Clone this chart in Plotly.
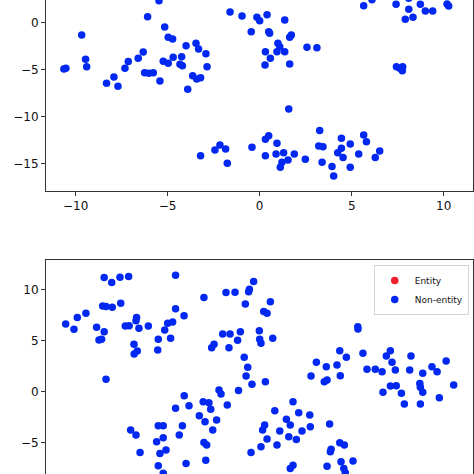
import plotly.graph_objects as go

# upper panel: embedding of the first set (only non-entity points visible)
top_x = [-5.47, -6.09, -1.61, -9.67, -5.16, -4.97, -4.73, -4.00, -3.46, -3.32,
         -2.92, -2.86, -6.33, -6.60, -7.14, -7.32, -9.46, -9.40, -10.53, -10.64,
         -8.32, -7.92, -7.70, -6.25, -6.02, -5.78, -5.42, -5.24, -4.97, -4.70,
         -4.24, -4.33, -4.20, -3.91, -3.64, -3.42, -3.21, -3.21, -2.43, -2.16,
         -1.85, -1.76,
         -0.96, -0.15, 0.00, 0.40, 1.36, -0.46, 0.49, 0.54, 1.63, 1.72,
         0.99, 1.09, 0.94, 1.36, 0.31, 0.58, 0.29, 1.63, 2.57, 3.11,
         5.65, 6.10, 7.41, 8.10, 8.73, 7.91, 8.33, 9.00, 9.40, 10.18,
         10.27, 8.10, 7.43, 7.61, 7.77, 7.75, 1.58,
         -0.42, 0.31, 0.49, 0.94, 0.31, 0.89, 1.30, 1.88, 1.21, 1.12,
         1.54, 2.48, 3.26, 3.21, 3.44, 3.39, 3.93, 4.02, 4.44, 4.44,
         4.24, 4.53, 4.92, 4.92, 5.38, 5.65, 5.80, 6.28, 6.52]
top_y = [2.35, 0.64, 1.14, -1.31, -0.46, -1.56, -1.74, -2.45, -2.20, -2.80,
         -3.30, -4.69, -3.12, -3.80, -4.15, -4.86, -3.90, -4.69, -4.86, -4.94,
         -6.46, -5.79, -6.78, -5.33, -5.40, -5.33, -6.22, -4.12, -4.33, -3.69,
         -3.62, -4.44, -4.58, -7.10, -5.65, -6.00, -5.86, -14.18, -13.57, -13.04,
         -13.46, -14.99,
         0.71, 0.58, 0.21, 0.85, 0.29, -0.96, -0.96, -1.13, -1.56, -1.31,
         -2.20, -2.56, -3.09, -3.09, -3.09, -3.80, -4.51, -4.40, -2.63, -2.66,
         1.81, 2.45, 1.96, 1.43, 1.96, 0.36, 0.58, 1.25, 1.25, 1.99,
         1.78, 2.60, -4.69, -4.86, -4.69, -5.12, -9.20,
         -13.28, -12.43, -12.05, -12.86, -14.18, -14.00, -13.86, -14.00, -14.88, -15.42,
         -14.64, -14.56, -11.51, -13.14, -13.22, -14.88, -15.35, -16.34, -12.33, -13.39,
         -13.86, -14.39, -12.93, -15.42, -14.00, -11.97, -12.69, -14.39, -13.68]

# lower panel: embedding of the second set
bottom_x = [-10.54, -10.09, -9.91, -9.44, -8.86, -8.73, -8.59, -8.45, -8.45, -8.04,
            -7.59, -7.12, -8.53, -8.35, -8.01, -7.55, -7.30, -7.09, -6.69, -6.72,
            -6.56, -6.05, -6.83, -6.65, -6.82, -8.35, -5.51, -5.54, -5.16, -5.00,
            -4.73, -4.84, -4.57, -4.57, -4.11, -4.10, -3.84, -4.57, -7.01, -6.72,
            -6.50, -5.51, -5.24, -5.24, -5.60, -5.09, -5.42, -5.51, -5.24, -4.37,
            -4.20, -4.00, -3.28, -3.07, -2.76, -2.66, -2.97, -2.55, -2.34, -3.03,
            -2.88, -2.93, -2.21, -2.10, -1.76, -3.03, -1.83, -1.34, -2.48, -2.61,
            -2.01, -1.61, -1.67, -1.20, -1.15,
            -0.33, -0.56, -0.60, -0.78, 0.58, 0.22, 0.40, -1.05, -0.02, 0.00,
            0.07, 0.71, -0.84, -0.65, -0.74, -0.42, 0.31, 1.81, 0.82, 2.12,
            2.72, 1.45, 1.66, 2.75, 2.30, 1.09, 0.27, 0.16, 0.40, 1.58,
            1.99, 0.94, 0.07, -0.47, 1.81, 1.66, 3.80, 4.35, 4.60, 3.88,
            3.84, 5.07, 4.42, 3.66, 4.57, 4.65,
            5.33, 5.34, 4.35, 4.71, 3.08, 3.62, 4.20, 2.79, 3.51, 3.66,
            4.38, 5.61, 5.83, 6.28, 6.65, 6.88, 7.10, 7.19, 7.37, 8.22,
            8.15, 8.86, 9.36, 9.64, 10.13, 10.54, 7.10, 7.42, 7.70, 6.70,
            7.86, 8.70, 8.73, 8.86, 8.73, 9.76]
bottom_y = [6.66, 6.13, 7.28, 7.71, 6.33, 5.08, 5.15, 5.90, 11.21, 10.72,
            11.25, 11.31, 8.43, 8.36, 8.30, 8.69, 6.46, 6.49, 7.28, 6.98,
            6.23, 6.46, 4.66, 4.00, 3.71, 1.22, 5.15, 4.10, 6.07, 6.72,
            6.85, 5.25, 11.44, 8.16, 7.47, -0.39, -1.38, -1.63, -3.77, -4.26,
            -5.96, -3.34, -3.34, -4.52, -4.92, -5.73, -6.06, -7.27, -8.00, -4.26,
            -3.34, -7.04, -2.36, -0.98, -1.08, -1.73, -2.95, -3.77, -2.78, -4.98,
            -5.24, -6.72, 0.17, -0.23, -1.31, 9.25, 9.74, 9.77, 4.66, 4.33,
            5.67, 5.67, 4.33, 5.06, 0.12,
            10.82, 10.07, 9.83, 8.62, 8.85, 7.87, 7.71, 5.90, 6.00, 5.15,
            4.76, 5.25, 3.38, 2.40, 1.54, 0.73, 0.98, -0.98, -1.87, -2.06,
            -2.29, -2.71, -3.27, -3.44, -3.86, -3.86, -3.27, -3.77, -4.65, -4.42,
            -4.68, -5.24, -5.41, -5.96, -7.21, -7.53, -3.18, -5.01, -5.24, -5.66,
            -5.90, -6.81, -6.88, -7.31, -7.53, -7.96,
            6.39, 6.17, 4.03, 3.38, 2.89, 2.46, 2.63, 1.54, 0.98, 1.15,
            1.57, 3.78, 2.20, 2.20, 1.97, 3.51, 4.03, 2.89, 2.13, 3.51,
            2.13, 1.81, 2.46, 1.97, 3.02, 0.66, 0.56, 0.59, -0.16, -0.06,
            -1.21, 0.82, 0.43, -0.06, -1.21, -0.59]

# entity points: none are visible in the picture, only the legend entry
entity_x = [None]
entity_y = [None]

top_xticks = [-10, -5, 0, 5, 10]
top_yticks = [0, -5, -10, -15]
bottom_yticks = [10, 5, 0, -5]

blue = '#0028f0'
red = '#f01e2c'
line_col = '#333333'

fig = go.Figure()

fig.add_trace(go.Scatter(x=top_x, y=top_y, mode='markers', xaxis='x', yaxis='y',
                         marker=dict(color=blue, size=7.5), showlegend=False))

fig.add_trace(go.Scatter(x=entity_x, y=entity_y, mode='markers', xaxis='x2', yaxis='y2',
                         name='Entity', marker=dict(color=red, size=7.5)))
fig.add_trace(go.Scatter(x=bottom_x, y=bottom_y, mode='markers', xaxis='x2', yaxis='y2',
                         name='Non-entity', marker=dict(color=blue, size=7.5)))

axis_common = dict(showgrid=False, zeroline=False, linecolor=line_col, linewidth=1,
                   tickcolor=line_col, ticklen=4, tickwidth=1)

fig.update_layout(
    width=474, height=474,
    margin=dict(l=46, r=1, t=0, b=0),
    paper_bgcolor='white', plot_bgcolor='white',
    font=dict(family='DejaVu Sans', size=12, color='#111111'),
    # upper panel: bottom and side spines only (top is out of frame)
    xaxis=dict(axis_common, domain=[0, 1], anchor='y', range=[-11.61, 11.59],
               showline=True, ticks='outside', tickvals=top_xticks),
    yaxis=dict(axis_common, domain=[0.5977, 1], anchor='x', range=[-17.92, 2.42],
               showline=True, mirror=True, ticks='outside', tickvals=top_yticks),
    # lower panel: top and side spines only (bottom is out of frame)
    xaxis2=dict(axis_common, domain=[0, 1], anchor='y2', range=[-11.61, 11.59],
                side='top', showline=True, ticks='', showticklabels=False),
    yaxis2=dict(axis_common, domain=[0, 0.4515], anchor='x2', range=[-8.08, 12.94],
                showline=True, mirror=True, ticks='outside', tickvals=bottom_yticks),
    legend=dict(x=0.99, y=0.441, xanchor='right', yanchor='top',
                bgcolor='white', bordercolor='#d4d4d4', borderwidth=1,
                font=dict(size=9), itemwidth=30, tracegroupgap=0),
)

# page has a default 8px body margin; drop it so the figure sits at the corner
fig.write_html("out.html", config={'displayModeBar': False},
               post_script="document.body.style.margin='0px';")
